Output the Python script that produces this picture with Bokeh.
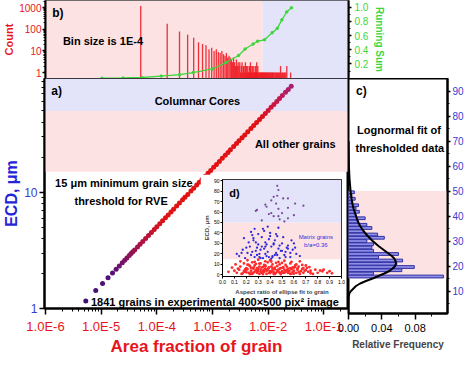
import numpy as np
from bokeh.plotting import figure
from bokeh.models import (Range1d, LinearScale, LinearAxis, FixedTicker, CustomJSTickFormatter,
                          NumeralTickFormatter, BoxAnnotation, Label, GridBox, Column)
from bokeh.embed import file_html
from bokeh.resources import INLINE

FONT = "Liberation Sans"
PINK = "#FDE2E3"
LAV = "#E3E3F9"
RED = "#E8141C"
BLUE = "#2E2ED2"
GREEN = "#3CD63C"

# ---------------- data ----------------
# panel a: grain area fraction (image = 400 x 500 pixels of 1 um)
area_fraction = [5.3e-6, 8.0e-6, 1.06e-5, 1.33e-5, 1.6e-5, 1.86e-5, 2.12e-5, 2.4e-5, 2.65e-5, 2.9e-5,
                 3.2e-5, 3.45e-5, 3.7e-5, 4.0e-5, 4.5e-5, 5.0e-5, 5.6e-5, 6.3e-5, 7.1e-5, 8.0e-5,
                 9.0e-5, 1.0e-4, 1.13e-4, 1.27e-4, 1.43e-4, 1.6e-4, 1.8e-4, 2.0e-4, 2.27e-4, 2.55e-4,
                 2.9e-4, 3.2e-4, 3.6e-4, 4.1e-4, 4.6e-4, 5.2e-4, 5.8e-4, 6.5e-4, 7.4e-4, 8.3e-4,
                 9.3e-4, 1.05e-3, 1.18e-3, 1.33e-3, 1.5e-3, 1.7e-3, 1.9e-3, 2.1e-3, 2.4e-3, 2.7e-3,
                 3.0e-3, 3.4e-3, 3.8e-3, 4.3e-3, 4.9e-3, 5.5e-3, 6.2e-3, 7.0e-3, 7.9e-3, 8.9e-3,
                 1.0e-2, 1.13e-2, 1.27e-2, 1.43e-2, 1.6e-2, 1.8e-2, 2.05e-2, 2.3e-2, 2.6e-2]
image_area_um2 = 400 * 500
ecd_um = [2.0 * np.sqrt(a * image_area_um2 / np.pi) for a in area_fraction]

threshold_ecd = 15
columnar_ecd = 50
columnar_area_fraction = 0.0079

# panel b: histogram of area fraction, bin size 1E-4
bin_size = 1e-4
bin_index = list(range(66)) + [67, 69, 71, 72, 74, 76, 78, 79, 81, 84, 86, 88, 91, 93, 96, 99, 102, 104,
                               108, 112, 115, 118, 122, 126, 131, 135, 140, 146, 152, 158, 165, 172,
                               180, 188, 196, 205, 214, 251]
bin_count = [1200, 178, 79, 56, 40, 25, 21, 18, 12,
             14, 10, 12, 9, 8, 10, 7, 6, 8, 5, 6, 5,
             4, 3, 5, 3, 2, 4, 2, 3, 2, 3, 1, 2, 3, 1, 2, 2, 1, 3, 1, 2,
             1, 2, 1, 1, 2, 1, 3, 2, 1, 1, 2, 1, 1, 2, 1, 1, 1, 2, 1, 1, 3, 1, 1, 2, 1,
             1, 1, 1, 1, 1, 1, 1, 1, 1, 1, 1, 1, 1, 1, 1, 1, 1, 1,
             1, 1, 1, 1, 1, 1, 1, 1, 1, 1, 1, 1, 2, 1, 1, 1, 1, 1, 2, 1]
runsum_area = [1.0e-5, 2.4e-5, 5.3e-5, 1.17e-4, 2.5e-4, 4.4e-4, 9.8e-4, 1.72e-3, 2.9e-3, 3.8e-3,
               5.3e-3, 6.4e-3, 8.5e-3, 1.17e-2, 1.44e-2, 1.75e-2, 2.14e-2, 2.6e-2]
runsum_value = [0.0, 0.003, 0.01, 0.03, 0.05, 0.08, 0.13, 0.22, 0.32, 0.41,
                0.48, 0.52, 0.54, 0.64, 0.70, 0.82, 0.93, 0.99]

# panel c: relative frequency of ECD (thresholded) and lognormal fit
hist_ecd = [15.8, 17.0, 18.3, 19.6, 20.9, 22.2, 23.5, 24.8, 26.1, 27.4, 28.7, 30.0, 31.3, 32.6,
            33.9, 35.2, 36.5, 37.8, 39.1, 40.4, 41.7, 43.0, 44.3, 45.6, 46.9, 48.2, 49.5]
hist_freq = [0.114, 0.030, 0.064, 0.079, 0.058, 0.065, 0.036, 0.060, 0.030, 0.028, 0.030, 0.022, 0.043, 0.035,
             0.018, 0.028, 0.022, 0.012, 0.020, 0.009, 0.013, 0.009, 0.012, 0.005, 0.008, 0.004, 0.007]
fit_ecd = [1, 6, 8, 9, 10, 11, 12, 13, 14, 15, 16, 17, 18, 19, 20, 21, 22, 23, 24, 25, 26, 28, 30,
           32, 34, 36, 38, 40, 43, 46, 50, 55, 60, 70]
fit_freq = [0.0, 0.0, 0.0003, 0.001, 0.003, 0.006, 0.009, 0.014, 0.021, 0.029, 0.036, 0.043, 0.049,
            0.053, 0.056, 0.057, 0.0565, 0.055, 0.052, 0.048, 0.044, 0.036, 0.029, 0.023, 0.018,
            0.014, 0.011, 0.009, 0.006, 0.004, 0.0025, 0.0012, 0.0005, 0.0001]

# panel d: aspect ratio vs ECD
matrix_ar = [.12, .16, .19, .22, .25, .27, .29, .31, .33, .35, .37, .39, .41, .43, .45, .47, .49, .51, .53, .55,
             .57, .59, .62, .65, .68, .72, .76, .80,
             .10, .14, .18, .21, .24, .26, .28, .30, .32, .34, .36, .38, .40, .42, .44, .46, .48, .50, .52, .54,
             .56, .58, .60, .63, .66, .70, .74, .78, .84,
             .08, .15, .20, .23, .26, .29, .31, .34, .36, .39, .41, .44, .46, .49, .51, .54, .57, .60, .64, .68, .73,
             .11, .18, .22, .25, .28, .32, .35, .38, .42, .45, .48, .53, .57, .62, .67,
             .15, .21, .27, .30, .36, .40, .47, .52, .58, .65,
             .88, .92, .05, .85, .70, .24, .44, .35, .55, .30, .61, .20, .48, .39, .27, .58,
             .17, .20, .23, .26, .28, .32, .34, .37, .40, .43, .46, .49, .52, .56, .60, .64, .69, .74, .13, .19,
             .24, .29, .33, .38, .42, .47, .51, .55, .59, .63, .67, .71, .82, .90, .21, .31, .41, .50, .61, .36]
matrix_ecd = [2, 1, 3, 2, 1, 3, 2, 1, 2, 3, 1, 2, 3, 1, 2, 3, 1, 2, 3, 2, 1, 3, 2, 1, 2, 3, 1, 2,
              4, 5, 3.5, 5.5, 4, 6, 4.5, 3.5, 5, 4, 6, 5, 3.5, 4.5, 5.5, 4, 6, 3.5, 5, 4.5, 3.5, 5.5, 4, 5,
              3.5, 4.5, 4, 5, 3.5,
              7, 8, 6.5, 8.5, 7, 6.5, 8, 7.5, 9, 6.5, 8, 7, 8.5, 6.5, 7.5, 8, 6.5, 7, 8, 6.5, 7.5,
              10, 11, 9.5, 12, 10.5, 11, 9.5, 12, 10, 11.5, 10, 9.5, 11, 10, 9.5,
              13, 14, 12.5, 14.5, 13, 14, 12.5, 13.5, 12.5, 13,
              2, 1.5, 3, 5, 9, 1.5, 0.8, 4.8, 2.5, 6.0, 7.8, 5.0, 2.2, 7.2, 9.0, 1.2,
              1.5, 2.5, 0.7, 2.2, 4.0, 3.0, 0.9, 3.8, 1.8, 2.6, 4.3, 0.9, 2.1, 3.9, 1.2, 2.8, 4.1, 1.6, 6.0, 5.2,
              6.8, 5.0, 7.0, 5.6, 6.4, 5.1, 6.9, 5.9, 7.2, 6.3, 5.7, 6.8, 4.2, 3.6, 9.8, 10.8, 12.8, 11.4, 9.2, 8.2]
mid_ar = [.14, .17, .19, .21, .23, .24, .26, .27, .28, .30, .31, .33, .34, .35, .36, .37, .38, .40, .41, .42,
          .44, .45, .47, .48, .50, .52, .53, .55, .57, .59, .62, .65, .22, .25, .29, .32, .35, .39, .43, .46,
          .49, .54, .58, .18, .27, .33, .38, .44, .51, .30, .36, .41, .24, .47,
          .16, .20, .25, .29, .32, .36, .39, .43, .46, .50, .53, .57, .61, .12, .26, .31, .37, .42, .48, .55,
          .34, .40, .28, .45, .60]
mid_ecd = [18, 24, 16, 21, 27, 19, 33, 17, 23, 29, 20, 36, 16, 25, 31, 18, 22, 40, 27, 17,
           33, 21, 25, 16, 30, 19, 22, 28, 17, 24, 20, 18, 31, 38, 26, 16, 42, 34, 29, 37,
           23, 26, 33, 35, 44, 27, 46, 19, 36, 39, 20, 15.5, 41, 45,
           21, 26, 22, 19, 24, 27, 17, 30, 19, 23, 17, 21, 26, 20, 35, 17, 29, 18, 28, 25,
           44, 37, 31, 39, 30]
col_ar = [.46, .47, .43, .46, .51, .55, .41, .45, .61, .37, .29, .47, .55, .41, .50, .47, .55, .48, .68,
          .28, .39, .43, .33, .60, .52, .36]
col_ecd = [85, 81, 74.5, 75.5, 73, 73, 71, 68, 68, 65, 62, 63, 64, 59, 59, 56, 54, 53, 66,
           61, 58, 56, 52, 57, 51, 67]

x_ticks_a = [1e-6, 1e-5, 1e-4, 1e-3, 1e-2, 1e-1]


# ---------------- helpers ----------------
def style_axis(ax, color="black", size="11px", tick_out=5, minor_out=3, standoff=2):
    ax.axis_line_color = "black"
    ax.axis_line_width = 2
    ax.major_tick_line_color = "black"
    ax.minor_tick_line_color = "black"
    ax.major_tick_line_width = 1.5
    ax.major_tick_in = 0
    ax.major_tick_out = tick_out
    ax.minor_tick_in = 0
    ax.minor_tick_out = minor_out
    ax.major_label_text_color = color
    ax.major_label_text_font = FONT
    ax.major_label_text_font_size = size
    ax.major_label_standoff = standoff
    ax.axis_label_text_font = FONT
    ax.axis_label_text_font_style = "bold"


def add_text(p, x, y, txt, size="11px", align="left", color="black", style="bold"):
    p.add_layout(Label(x=x, y=y, text=txt, text_font=FONT, text_font_size=size, text_font_style=style,
                       text_color=color, text_align=align, text_baseline="middle"))


def ecd_color(e):
    anchors = np.log10([1.0, 2.0, 3.5, 6.0, 40.0, 60.0, 95.0])
    cols = np.array([[0x3a, 0x10, 0x6e], [0x55, 0x12, 0x78], [0xa8, 0x12, 0x48], [0xe0, 0x12, 0x14],
                     [0xe0, 0x12, 0x14], [0xc8, 0x18, 0x4a], [0x9a, 0x22, 0x8a]])
    le = np.log10(e)
    rgb = [int(np.interp(le, anchors, cols[:, i])) for i in range(3)]
    return "#%02x%02x%02x" % tuple(rgb)


def log_minor(decades):
    return [m * 10.0 ** d for d in decades for m in range(2, 10)]


x_range_a = Range1d(10 ** (-6 - 1 / 57.5), 10 ** (-6 + 313 / 57.5))

# ---------------- panel a ----------------
pa = figure(width=348, height=280, x_axis_type="log", y_axis_type="log",
            x_range=x_range_a, y_range=Range1d(1.0, 95.0),
            output_backend="svg", toolbar_location=None,
            min_border_left=39, min_border_right=0, min_border_top=0, min_border_bottom=45)
pa.xgrid.grid_line_color = None
pa.ygrid.grid_line_color = None
pa.outline_line_color = "black"
pa.outline_line_width = 2
pa.add_layout(BoxAnnotation(bottom=threshold_ecd, top=columnar_ecd, fill_color=PINK, fill_alpha=1,
                            line_alpha=0, level="underlay"))
pa.add_layout(BoxAnnotation(bottom=columnar_ecd, fill_color=LAV, fill_alpha=1, line_alpha=0, level="underlay"))
pa.scatter(area_fraction, ecd_um, size=5, color=[ecd_color(e) for e in ecd_um], line_width=0)

xa = pa.xaxis[0]
style_axis(xa, RED, "13px", tick_out=6, minor_out=3, standoff=4)
xa.ticker = FixedTicker(ticks=x_ticks_a, minor_ticks=log_minor(range(-7, 0)))
xa.formatter = CustomJSTickFormatter(code="return tick.toExponential(1).replace('e','E').replace('+','');")
xa.axis_label = "Area fraction of grain"
xa.axis_label_text_color = RED
xa.axis_label_text_font_size = "17px"
xa.axis_label_standoff = 0

ya = pa.yaxis[0]
style_axis(ya, "#3A3AD0", "12px", tick_out=5, minor_out=3, standoff=2)
ya.ticker = FixedTicker(ticks=[1, 10, 100], minor_ticks=log_minor([0, 1]))
ya.formatter = CustomJSTickFormatter(code="return tick.toFixed(0);")
ya.axis_label = "ECD, μm"
ya.axis_label_text_color = "#2424D8"
ya.axis_label_text_font_size = "16px"
ya.axis_label_standoff = 1

add_text(pa, 1.27e-6, 73.8, "a)", "12px")
add_text(pa, 5.37e-4, 61.0, "Columnar Cores", "11px", align="center")
add_text(pa, 3.07e-2, 25.9, "All other grains", "11px", align="center")
add_text(pa, 1.49e-6, 12.1, "15 μm minimum grain size", "11px")
add_text(pa, 3.32e-6, 8.43, "threshold for RVE", "11px")
add_text(pa, 6.57e-6, 1.14, "1841 grains in experimental 400×500 pix² image", "11px")

# ---------------- panel b ----------------
pb = figure(width=396, height=78, x_axis_type="log", y_axis_type="log",
            x_range=x_range_a, y_range=Range1d(0.53, 2130),
            output_backend="svg", toolbar_location=None, x_axis_location=None,
            min_border_left=39, min_border_right=48, min_border_top=0, min_border_bottom=0)
pb.xgrid.grid_line_color = None
pb.ygrid.grid_line_color = None
pb.outline_line_color = "#444444"
pb.outline_line_width = 2
pb.extra_y_ranges = {"sum": Range1d(-0.004, 1.092)}
pb.extra_y_scales = {"sum": LinearScale()}
pb.add_layout(BoxAnnotation(right=columnar_area_fraction, fill_color=PINK, fill_alpha=1, line_alpha=0,
                            level="underlay"))
pb.add_layout(BoxAnnotation(left=columnar_area_fraction, fill_color=LAV, fill_alpha=1, line_alpha=0,
                            level="underlay"))
centers = [(k + 0.5) * bin_size for k in bin_index]
pb.segment(x0=centers, y0=0.1, x1=centers, y1=bin_count, line_color="#EE1C25", line_width=1.3, line_alpha=0.9)
pb.line(runsum_area, runsum_value, y_range_name="sum", line_color=GREEN, line_width=1.3)
pb.scatter(runsum_area, runsum_value, y_range_name="sum", size=2.5, color=GREEN)

yb = pb.yaxis[0]
style_axis(yb, RED, "10px", tick_out=3, minor_out=2, standoff=1)
yb.ticker = FixedTicker(ticks=[1, 10, 100, 1000], minor_ticks=log_minor([0, 1, 2, 3]))
yb.formatter = CustomJSTickFormatter(code="return tick.toFixed(0);")
yb.axis_label = "Count"
yb.axis_label_text_color = RED
yb.axis_label_text_font_size = "11px"
yb.axis_label_standoff = 1

yb2 = LinearAxis(y_range_name="sum")
style_axis(yb2, GREEN, "10px", tick_out=3, minor_out=2, standoff=3)
yb2.ticker = FixedTicker(ticks=[0.2, 0.4, 0.6, 0.8, 1.0], minor_ticks=[0.1, 0.3, 0.5, 0.7, 0.9])
yb2.formatter = NumeralTickFormatter(format="0.0")
yb2.axis_label = "Running Sum"
yb2.axis_label_text_color = GREEN
yb2.axis_label_text_font_size = "10px"
yb2.axis_label_standoff = 3
pb.add_layout(yb2, "right")

add_text(pb, 1.27e-6, 553, "b)", "12px")
add_text(pb, 1.98e-6, 27.4, "Bin size is 1E-4", "11px")

# ---------------- panel c ----------------
pc = figure(width=132, height=280, x_range=Range1d(0, 0.1189), y_range=Range1d(1.0, 95.0),
            output_backend="svg", toolbar_location=None, y_axis_location="right",
            min_border_left=14, min_border_right=16, min_border_top=0, min_border_bottom=45)
pc.border_fill_alpha = 0
pc.xgrid.grid_line_color = None
pc.ygrid.grid_line_color = None
pc.outline_line_color = "black"
pc.outline_line_width = 2
pc.add_layout(BoxAnnotation(bottom=threshold_ecd, top=columnar_ecd, fill_color=PINK, fill_alpha=1,
                            line_alpha=0, level="underlay"))
pc.hbar(y=hist_ecd, height=1.1, left=0, right=hist_freq, fill_color="#9090E8", line_color="#2E2EA0",
        line_width=1)
pc.line(fit_freq, fit_ecd, line_color="black", line_width=2)

xc = pc.xaxis[0]
style_axis(xc, "black", "11px", tick_out=6, minor_out=3, standoff=4)
xc.ticker = FixedTicker(ticks=[0.0, 0.04, 0.08], minor_ticks=[0.02, 0.06, 0.10])
xc.formatter = NumeralTickFormatter(format="0.00")
xc.axis_label = "Relative Frequency"
xc.axis_label_text_font_size = "10px"
xc.axis_label_standoff = 4

yc = pc.yaxis[0]
style_axis(yc, "#3A3AD0", "10px", tick_out=3, minor_out=2, standoff=2)
yc.ticker = FixedTicker(ticks=[10, 20, 30, 40, 50, 60, 70, 80, 90], minor_ticks=[5, 15, 25, 35, 45, 55, 65, 75, 85])
yc.formatter = NumeralTickFormatter(format="0")

add_text(pc, 0.0091, 90, "c)", "12px")
add_text(pc, 0.0606, 74.3, "Lognormal fit of", "11px", align="center")
add_text(pc, 0.0617, 67.2, "thresholded data", "11px", align="center")

# ---------------- panel d (inset) ----------------
pd = figure(width=145, height=123, x_range=Range1d(0, 1.0), y_range=Range1d(-1.5, 91),
            output_backend="svg", toolbar_location=None,
            min_border_left=16, min_border_right=4, min_border_top=5, min_border_bottom=20)
pd.xgrid.grid_line_color = None
pd.ygrid.grid_line_color = None
pd.outline_line_color = "black"
pd.outline_line_width = 1
pd.border_fill_color = "white"
pd.add_layout(BoxAnnotation(bottom=threshold_ecd, top=columnar_ecd, fill_color=PINK, fill_alpha=1,
                            line_alpha=0, level="underlay"))
pd.add_layout(BoxAnnotation(bottom=columnar_ecd, fill_color=LAV, fill_alpha=1, line_alpha=0, level="underlay"))
pd.scatter(matrix_ar, matrix_ecd, size=2.8, color="#FF2A2A", line_width=0)
pd.scatter(mid_ar, mid_ecd, size=2.3, color="#2B2BE0", line_width=0)
pd.scatter(col_ar, col_ecd, size=2.2, color="#7A4A9A", line_width=0)

for ax in (pd.xaxis[0], pd.yaxis[0]):
    style_axis(ax, "black", "5px", tick_out=2, minor_out=1, standoff=1)
    ax.axis_line_width = 1
    ax.major_tick_line_width = 1
    ax.axis_label_text_font_size = "6px"
pd.xaxis[0].ticker = FixedTicker(ticks=[0.0, 0.1, 0.2, 0.3, 0.4, 0.5, 0.6, 0.7, 0.8, 0.9, 1.0])
pd.xaxis[0].formatter = NumeralTickFormatter(format="0.0")
pd.xaxis[0].axis_label = "Aspect ratio of ellipse fit to grain"
pd.xaxis[0].axis_label_standoff = 2
pd.yaxis[0].ticker = FixedTicker(ticks=[0, 10, 20, 30, 40, 50, 60, 70, 80, 90])
pd.yaxis[0].formatter = NumeralTickFormatter(format="0")
pd.yaxis[0].axis_label = "ECD, μm"
pd.yaxis[0].axis_label_standoff = 1

add_text(pd, 0.056, 78, "d)", "11px")
add_text(pd, 0.784, 36.4, "Matrix grains", "6px", align="center", color="#3030E0", style="normal")
add_text(pd, 0.784, 28.2, "b/a=0.36", "6px", align="center", color="#3030E0", style="normal")

# ---------------- composition ----------------
# each panel is wrapped so that the grid does not align their frames; panels overlap in one cell
wa = Column(children=[pa], margin=(78, 0, 0, 0))
wb = Column(children=[pb], margin=(0, 0, 0, 0))
wc = Column(children=[pc], margin=(78, 0, 0, 334))
wd = Column(children=[pd], margin=(174, 0, 0, 200))

layout = GridBox(children=[(wa, 0, 0), (wb, 0, 0), (wc, 0, 0), (wd, 0, 0)])

open("out.html", "w").write(file_html(layout, INLINE))
